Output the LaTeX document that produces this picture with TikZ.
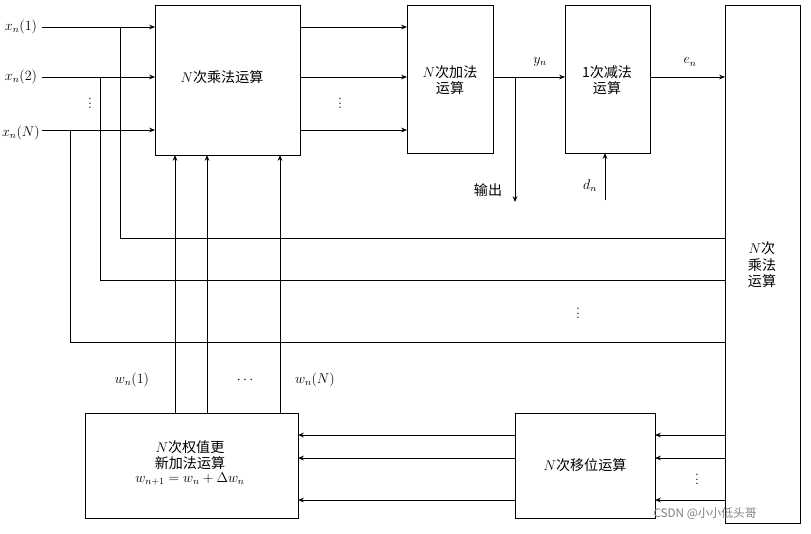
\documentclass[tikz,border=0pt]{standalone}
\usepackage{fontspec}
\newfontfamily\cjk{Noto Sans CJK SC}
\usetikzlibrary{arrows.meta}
\begin{document}
\begin{tikzpicture}[x=0.03cm,y=-0.03cm,
  every node/.style={font=\large},
  arr/.style={-{Stealth[length=5pt,width=4pt]},thick},
  ln/.style={thick},
  vd/.style={inner sep=0pt},
  lbl/.style={font=\cjk\large,align=center}]
\useasboundingbox (0,0) rectangle (811,534);
% boxes
\draw[thick] (155,5) rectangle (300,155);
\draw[thick] (407,5) rectangle (493,153);
\draw[thick] (565,5) rectangle (650,153);
\draw[thick] (725,5) rectangle (800,523);
\draw[thick] (85,413) rectangle (298,518);
\draw[thick] (515,413) rectangle (655,518);
\node[lbl] (m) at (222,77) {$N$次乘法运算};
\node[lbl] (a) at (450,80) {$N$次加法\\运算};
\node[lbl] (s) at (607,80) {1次减法\\运算};
\node[lbl] (r) at (762,265) {$N$次\\乘法\\运算};
\node[lbl] (w) at (190,463) {$N$次权值更\\新加法运算\\[-2pt]{$w_{n+1}=w_n+\Delta w_n$}};
\node[lbl] (sh) at (585,465) {$N$次移位运算};
% inputs
\node at (21,27) {$x_n(1)$};
\node at (21,77) {$x_n(2)$};
\node at (21,133) {$x_n(N)$};
\node[vd] at (90,100) {$\vdots$};
\foreach \y in {27,77,130} \draw[arr] (42,\y) -- (155,\y);
\draw[ln] (120,27) -- (120,238) -- (725,238);
\draw[ln] (100,77) -- (100,280) -- (725,280);
\draw[ln] (70,130) -- (70,342) -- (725,342);
\node[vd] at (578,310) {$\vdots$};
% mult -> add
\foreach \y in {27,77,130} \draw[arr] (300,\y) -- (407,\y);
\node[vd] at (340,100) {$\vdots$};
% add -> sub
\draw[arr] (493,77) -- (565,77);
\node at (540,62) {$y_n$};
\draw[arr] (515,77) -- (515,202);
\node[lbl] at (488,190) {输出};
\draw[arr] (605,200) -- (605,153);
\node at (590,186) {$d_n$};
\draw[arr] (650,77) -- (725,77);
\node at (690,62) {$e_n$};
% right -> shift -> weight
\foreach \y in {435,458,500} {\draw[arr] (725,\y) -- (655,\y); \draw[arr] (515,\y) -- (298,\y);}
\node[vd] at (697,476) {$\vdots$};
% weight -> mult
\foreach \x in {175,207,280} \draw[arr] (\x,413) -- (\x,155);
\node at (132,380) {$w_n(1)$};
\node at (245,380) {$\cdots$};
\node at (315,380) {$w_n(N)$};
\node[font=\cjk\normalsize,text=gray] at (705,514) {CSDN @小小低头哥};
\end{tikzpicture}
\end{document}
